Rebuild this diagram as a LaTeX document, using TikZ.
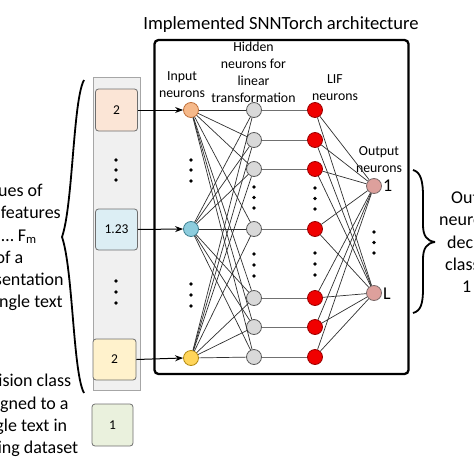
\documentclass[tikz,border=0pt]{standalone}
\usepackage{fontspec}
\setmainfont{Carlito}
\usetikzlibrary{arrows.meta}
\definecolor{colfill}{HTML}{F0F0F0}
\definecolor{colborder}{HTML}{A6A6A6}
\definecolor{boxborder}{HTML}{6E6E6E}
\definecolor{peach}{HTML}{FBE5D6}
\definecolor{peachn}{HTML}{F6B98A}
\definecolor{peachd}{HTML}{C0703A}
\definecolor{lblue}{HTML}{DCEEF4}
\definecolor{bluen}{HTML}{8DCDDE}
\definecolor{blued}{HTML}{3E7F90}
\definecolor{lyellow}{HTML}{FFF2CC}
\definecolor{yellown}{HTML}{FFD55A}
\definecolor{yellowd}{HTML}{B38A10}
\definecolor{lgreen}{HTML}{EAF1DD}
\definecolor{hidfill}{HTML}{D9D9D9}
\definecolor{hidd}{HTML}{5A5A5A}
\definecolor{liffill}{HTML}{F00000}
\definecolor{lifd}{HTML}{9A0000}
\definecolor{outfill}{HTML}{DDA09C}
\definecolor{outd}{HTML}{7A6A6A}
\definecolor{linecol}{HTML}{303030}
\definecolor{hlcol}{HTML}{707070}
\begin{document}
\begin{tikzpicture}[x=1pt,y=-1pt,
  neuron/.style={circle,minimum size=15pt,inner sep=0pt,line width=0.8pt},
  numbox/.style={rounded corners=3pt,draw=boxborder,line width=0.8pt,inner sep=0pt,
    font=\fontsize{13.5}{16}\selectfont},
  conn/.style={draw=linecol,line width=0.7pt},
  hlink/.style={draw=hlcol,line width=1pt},
  inarrow/.style={draw=black,line width=1pt,-{Stealth[length=8pt,width=6pt]}},
  bigtext/.style={font=\fontsize{18}{22.3}\selectfont,align=center,inner sep=0pt},
  smalltext/.style={font=\fontsize{13.8}{17}\selectfont,align=center,inner sep=0pt},
  bracecurve/.style={draw=black,line width=1.8pt},
  dotmark/.style={fill=black}
]
\useasboundingbox (0,0) rectangle (474,474);

% title
\node[bigtext,font=\fontsize{18.6}{22}\selectfont] (title) at (281,25) {Implemented SNNTorch architecture};

% frame
\node[draw=black,line width=2.3pt,rounded corners=4pt,minimum width=254pt,minimum height=334pt,inner sep=0pt] (frame) at (281.5,207) {};

% input column
\node[fill=colfill,draw=colborder,line width=0.9pt,minimum width=47pt,minimum height=313pt,inner sep=0pt] (col) at (116.5,233.5) {};
\node[numbox,fill=peach,minimum width=42pt,minimum height=42pt] (b1) at (116.5,110) {2};
\node[numbox,fill=lblue,minimum width=42pt,minimum height=41pt] (b2) at (116.5,229.5) {1.23};
\node[numbox,fill=lyellow,minimum width=43pt,minimum height=41pt] (b3) at (114.5,359.5) {2};
\node[numbox,fill=lgreen,minimum width=41pt,minimum height=42pt] (b4) at (112.5,425) {1};

\foreach \yy in {160,170,180,281,292,303} \fill[dotmark] (116,\yy) circle (1.8);

% labels
\node[smalltext] (linput) at (182,84.5) {Input\\neurons};
\node[smalltext] (lhidden) at (253.5,72.5) {Hidden\\neurons for\\linear\\transformation};
\node[smalltext] (llif) at (335,87.5) {LIF\\neurons};
\node[smalltext] (lout) at (379,159.5) {Output\\neurons};

% input neurons
\node[neuron,fill=peachn,draw=peachd] (i1) at (191,110) {};
\node[neuron,fill=bluen,draw=blued] (i2) at (191,229) {};
\node[neuron,fill=yellown,draw=yellowd] (i3) at (191,358) {};
\foreach \yy in {160,170,181,284,295,306} \fill[dotmark] (191,\yy) circle (1.8);

% hidden and LIF neurons
\foreach \k/\yy in {1/110,2/140,3/169,4/229,5/298,6/327,7/357}{
  \node[neuron,fill=hidfill,draw=hidd] (h\k) at (254,\yy) {};
  \node[neuron,fill=liffill,draw=lifd] (l\k) at (315,\yy) {};
}
\foreach \yy in {187,197.5,208,254,265,276} \fill[dotmark] (254,\yy) circle (1.8);
\foreach \yy in {188,198.5,209,253,264,275} \fill[dotmark] (315,\yy) circle (1.8);

% output neurons
\node[neuron,fill=outfill,draw=outd] (o1) at (374,186) {};
\node[neuron,fill=outfill,draw=outd] (o2) at (374,293) {};
\node[bigtext,anchor=west] (n1) at (383,186) {1};
\node[bigtext,anchor=west] (nL) at (383,294) {L};
\foreach \yy in {232,242.5,253} \fill[dotmark] (374,\yy) circle (1.8);

% connections
\foreach \i in {1,2,3}{
  \foreach \k in {1,...,7}{
    \draw[conn] (i\i) -- (h\k);
  }
}
\foreach \k in {1,...,7}{
  \draw[hlink] (h\k) -- (l\k);
  \draw[conn] (l\k) -- (o1);
  \draw[conn] (l\k) -- (o2);
}

% arrows into input neurons
\draw[inarrow] (b1.east) -- (i1.west);
\draw[inarrow] (b2.east) -- (i2.west);
\draw[inarrow] (b3.east) -- (i3.west);

% left brace
\coordinate (lbtop) at (84,80);
\coordinate (lbtip) at (62,237);
\coordinate (lbbot) at (84,393);
\draw[bracecurve] (lbtop) .. controls (73,100) and (73,205) .. (lbtip);
\draw[bracecurve] (lbtip) .. controls (73,269) and (73,373) .. (lbbot);

% right brace
\coordinate (rbtop) at (413,170);
\coordinate (rbtip) at (435,242);
\coordinate (rbbot) at (413,313);
\draw[bracecurve] (rbtop) .. controls (421,172) and (423,182) .. (423,196) -- (423,225) .. controls (423,236) and (427,241) .. (rbtip);
\draw[bracecurve] (rbtip) .. controls (427,243) and (423,248) .. (423,259) -- (423,289) .. controls (423,303) and (421,311) .. (rbbot);

% left texts
\node[bigtext] (ltext1) at (9.5,247.5) {Values of\\input features\\F\textsubscript{1} … F\textsubscript{m}\\of a\\representation\\of a single text};
\node[bigtext] (ltext2) at (21,415.5) {Decision class\\assigned to a\\single text in\\training dataset};

% right texts
\node[bigtext,anchor=base west] (r1) at (451,203) {Output};
\node[bigtext,anchor=base west] (r2) at (439,225) {neurons};
\node[bigtext,anchor=base west] (r3) at (447,248) {decide};
\node[bigtext,anchor=base west] (r4) at (445,270) {classes};
\node[bigtext,anchor=base west] (r5) at (462,292) {1 … L};
\end{tikzpicture}
\end{document}
